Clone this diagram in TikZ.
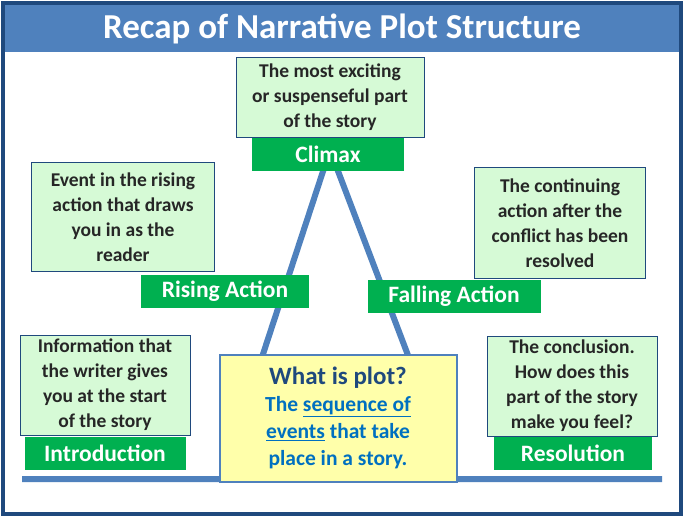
\documentclass[tikz,border=0pt]{standalone}
\usepackage{fontspec}
\setmainfont{Carlito}
\usetikzlibrary{positioning}
\definecolor{frameblue}{RGB}{31,73,125}
\definecolor{barblue}{RGB}{79,129,189}
\definecolor{labgreen}{RGB}{0,176,80}
\definecolor{descgreen}{RGB}{214,250,214}
\definecolor{plotyellow}{RGB}{255,255,170}
\definecolor{textblue}{RGB}{0,112,192}

\begin{document}
\begin{tikzpicture}[x=1pt,y=-1pt,
    desc/.style={draw=frameblue,fill=descgreen,thick,align=center,inner sep=1pt,
                 font=\bfseries\fontsize{19.5}{25}\selectfont,text=black!85},
    lab/.style={fill=labgreen,text=white,inner sep=0pt,
                font=\bfseries\fontsize{23.5}{26}\selectfont}]

      \useasboundingbox (0,0) rectangle (684,517);
      \draw[frameblue,line width=4pt,fill=white] (3,3) rectangle (681,514);
      \fill[barblue] (5,5) rectangle (679,52);
      \node[text=white,font=\bfseries\fontsize{35}{38}\selectfont] (title) at (342,29) {Recap of Narrative Plot Structure};

      % plot line
      \coordinate (b1) at (22,479);
      \coordinate (b2) at (222,479);
      \coordinate (top) at (330,150);
      \coordinate (b3) at (455,479);
      \coordinate (b4) at (662,479);
      \draw[barblue,line width=6pt] (b1) -- (b2) -- (top) -- (b3) -- (b4);

      % labels
      \node[lab,minimum width=152pt,minimum height=34pt] (climax) at (328,154) {Climax};
      \node[lab,minimum width=168pt,minimum height=33pt] (rising) at (225,291) {Rising Action};
      \node[lab,minimum width=173pt,minimum height=33pt] (falling) at (454,296) {Falling Action};
      \node[lab,minimum width=161pt,minimum height=33pt] (intro) at (105,453) {Introduction};
      \node[lab,minimum width=158pt,minimum height=33pt] (resol) at (573,453) {Resolution};

      % descriptions
      \node[desc,minimum width=188pt,minimum height=80pt] (climaxd) at (330,97)
        {The most exciting\\or suspenseful part\\of the story};
      \node[desc,minimum width=183pt,minimum height=109pt] (risingd) at (123,217)
        {Event in the rising\\action that draws\\you in as the\\reader};
      \node[desc,minimum width=171pt,minimum height=111pt] (fallingd) at (560,223)
        {The continuing\\action after the\\conflict has been\\resolved};
      \node[desc,minimum width=170pt,minimum height=100pt] (introd) at (105,385)
        {Information that\\the writer gives\\you at the start\\of the story};
      \node[desc,minimum width=170pt,minimum height=100pt] (resold) at (572,386)
        {The conclusion.\\How does this\\part of the story\\make you feel?};

      % plot box
      \node[draw=barblue,line width=2pt,fill=plotyellow,minimum width=237pt,minimum height=127pt,
            align=center,font=\bfseries\fontsize{21.5}{27}\selectfont,text=textblue] (plot) at (338,418)
        {{\color{frameblue}\fontsize{25}{29}\selectfont What is plot?}\\
         The \underline{sequence of}\\\underline{events} that take\\place in a story.};
    \end{tikzpicture}
\end{document}
